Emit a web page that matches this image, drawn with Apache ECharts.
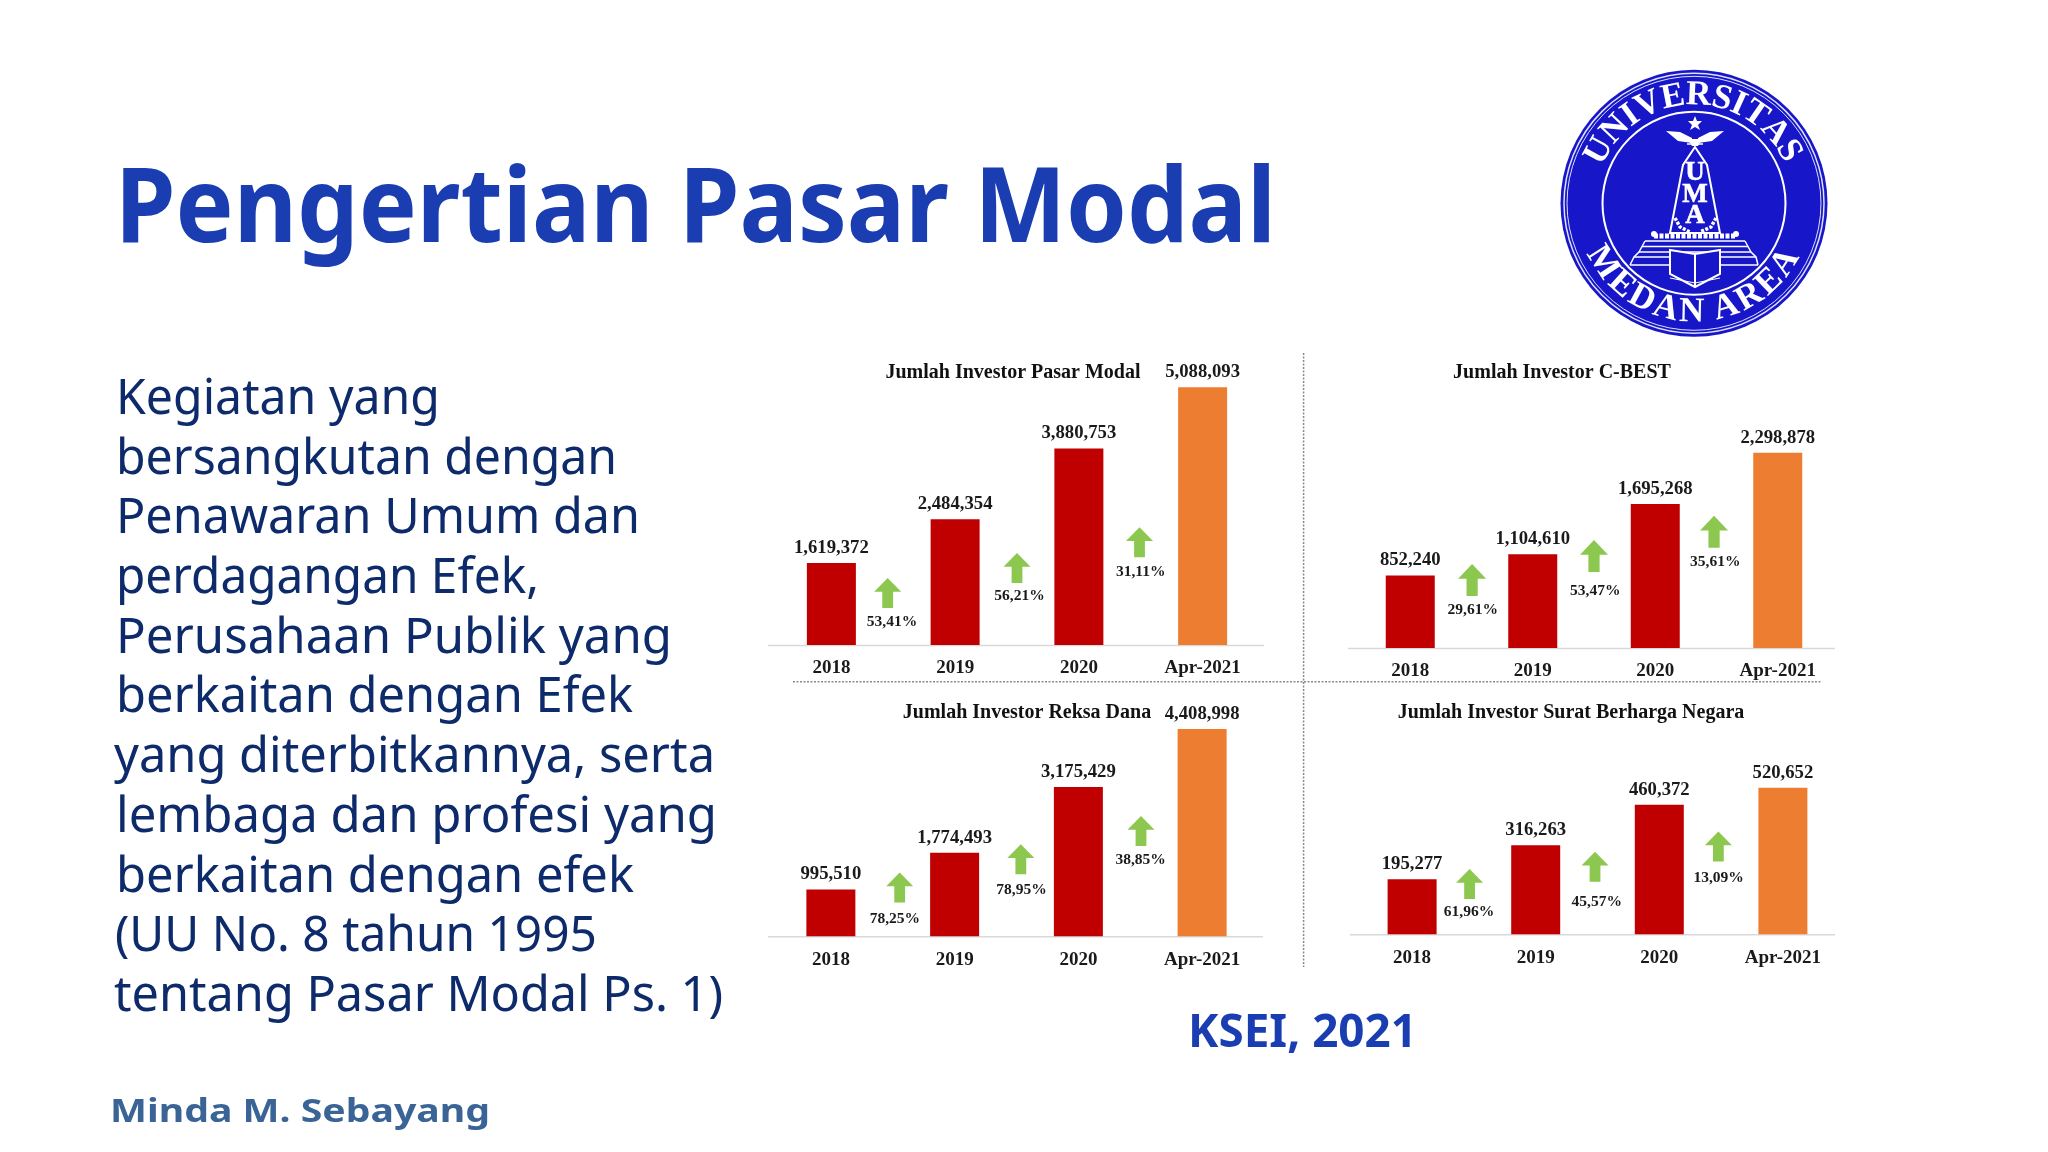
<!DOCTYPE html>
<html>
<head>
<meta charset="utf-8">
<title>Pengertian Pasar Modal</title>
<style>
  html, body { margin: 0; padding: 0; background: #fff; }
  #chart { width: 2048px; height: 1152px; }
</style>
<script src="https://cdn.jsdelivr.net/npm/echarts@6/dist/echarts.min.js"></script>
</head>
<body>
<div id="chart"></div>
<script>
// data
const categories = ['2018', '2019', '2020', 'Apr-2021'];

const pasarModal = [1619372, 2484354, 3880753, 5088093];
const cBest = [852240, 1104610, 1695268, 2298878];
const reksaDana = [995510, 1774493, 3175429, 4408998];
const suratNegara = [195277, 316263, 460372, 520652];

const growthPasarModal = ['53,41%', '56,21%', '31,11%'];
const growthCBest = ['29,61%', '53,47%', '35,61%'];
const growthReksaDana = ['78,25%', '78,95%', '38,85%'];
const growthSuratNegara = ['61,96%', '45,57%', '13,09%'];

// arrows and their percent labels, x in category bands (0-4), y in investors
const arrowsPasarModal = [[0.955, 1027000], [2.0, 1520000], [2.99, 2030000]];
const arrowsCBest = [[1.005, 800000], [2.0, 1083000], [2.98, 1369000]];
const arrowsReksaDana = [[1.056, 1038000], [2.035, 1638000], [3.006, 2240000]];
const arrowsSuratNegara = [[0.965, 178600], [1.98, 239700], [2.978, 311800]];

const pctPasarModal = [[0.99, 460000], [2.02, 967000], [3.0, 1447000]];
const pctCBest = [[1.01, 447000], [2.01, 675000], [2.99, 1012000]];
const pctReksaDana = [[1.017, 362000], [2.04, 985000], [3.003, 1623000]];
const pctSuratNegara = [[0.96, 80300], [1.994, 115800], [2.98, 198900]];

const panelTitles = [
  'Jumlah Investor Pasar Modal',
  'Jumlah Investor C-BEST',
  'Jumlah Investor Reksa Dana',
  'Jumlah Investor Surat Berharga Negara'
];

const bodyLines = [
  'Kegiatan yang',
  'bersangkutan dengan',
  'Penawaran Umum dan',
  'perdagangan Efek,',
  'Perusahaan Publik yang',
  'berkaitan dengan Efek',
  'yang diterbitkannya, serta',
  'lembaga dan profesi yang',
  'berkaitan dengan efek',
  '(UU No. 8 tahun 1995',
  'tentang Pasar Modal Ps. 1)'
];

// layout
const bodyWidths = [324, 501, 524, 423, 556, 517, 601, 601, 518, 482, 609];
const bodyLefts = [116, 116, 116, 116, 116, 116, 114, 116, 116, 115, 114];

const panels = [
  { values: pasarModal, growth: growthPasarModal, arrows: arrowsPasarModal, pct: pctPasarModal,
    left: 769.5, width: 495, top: 387.3, bottom: 645, titleX: 1008, titleY: 358, axisFrom: 768, axisTo: 1264 },
  { values: cBest, growth: growthCBest, arrows: arrowsCBest, pct: pctCBest,
    left: 1349, width: 490, top: 452.7, bottom: 648, titleX: 1557, titleY: 358, axisFrom: 1348, axisTo: 1835 },
  { values: reksaDana, growth: growthReksaDana, arrows: arrowsReksaDana, pct: pctReksaDana,
    left: 769, width: 495, top: 729, bottom: 936.3, titleX: 1022, titleY: 698, axisFrom: 768, axisTo: 1263 },
  { values: suratNegara, growth: growthSuratNegara, arrows: arrowsSuratNegara, pct: pctSuratNegara,
    left: 1350.3, width: 494.4, top: 787.7, bottom: 934.3, titleX: 1566, titleY: 698, axisFrom: 1350, axisTo: 1835 }
];

const SERIF = '"Liberation Serif", serif';
const SANS = '"Noto Sans", sans-serif';
const BLUE = '#1a3eb2';
const NAVY = '#0d2a6b';
const LOGO = '#1717c9';
const ARROW = 'path://M50 0 L100 46 L70 46 L70 100 L30 100 L30 46 L0 46 Z';

const measureCtx = document.createElement('canvas').getContext('2d');

// text squeezed to the width it has in the picture
function fitText(text, x, y, font, fill, targetWidth) {
  measureCtx.font = font;
  const natural = measureCtx.measureText(text).width;
  return {
    type: 'text', x: x, y: y, scaleX: targetWidth / natural, silent: true,
    style: { text: text, font: font, fill: fill, textVerticalAlign: 'middle' }
  };
}

function dotted(x1, y1, x2, y2) {
  return {
    type: 'line', silent: true,
    shape: { x1: x1, y1: y1, x2: x2, y2: y2 },
    style: { stroke: '#8a8a8a', lineWidth: 1.5, lineDash: [2, 1.5] }
  };
}

// round text on the logo, letters spaced by their own width
function arcLetters(text, cx, cy, radius, fromDeg, toDeg, bottom) {
  const font = 'bold 35px ' + SERIF;
  measureCtx.font = font;
  const chars = text.split('');
  const widths = chars.map(ch => measureCtx.measureText(ch).width);
  const span = widths.reduce((a, b) => a + b, 0) - widths[0] / 2 - widths[widths.length - 1] / 2;
  const out = [];
  let run = 0;
  chars.forEach((ch, i) => {
    if (i > 0) run += (widths[i - 1] + widths[i]) / 2;
    if (ch === ' ') return;
    const deg = fromDeg + (toDeg - fromDeg) * run / span;
    const rad = deg * Math.PI / 180;
    out.push({
      type: 'text', silent: true,
      x: cx + radius * Math.sin(rad),
      y: bottom ? cy + radius * Math.cos(rad) : cy - radius * Math.cos(rad),
      rotation: (bottom ? deg : -deg) * Math.PI / 180,
      style: { text: ch, font: font, fill: '#fff', textAlign: 'center', textVerticalAlign: 'middle' }
    });
  });
  return out;
}

function logo() {
  const cx = 1694, cy = 203.3;
  const white = { stroke: '#fff', fill: 'none', lineWidth: 2 };
  const line = (pts, w) => ({
    type: 'polyline', silent: true, shape: { points: pts },
    style: { stroke: '#fff', fill: 'none', lineWidth: w || 2 }
  });
  const solid = pts => ({ type: 'polygon', silent: true, shape: { points: pts }, style: { fill: '#fff' } });
  const els = [
    { type: 'circle', silent: true, shape: { cx: cx, cy: cy, r: 133.5 }, style: { fill: LOGO } },
    { type: 'circle', silent: true, shape: { cx: cx, cy: cy, r: 130 }, style: { stroke: '#dfe0fa', fill: 'none', lineWidth: 1.5 } },
    { type: 'circle', silent: true, shape: { cx: cx, cy: cy, r: 127 }, style: { stroke: '#dfe0fa', fill: 'none', lineWidth: 1 } },
    { type: 'circle', silent: true, shape: { cx: cx, cy: cy, r: 91.5 }, style: white },
    // monument
    { type: 'polygon', silent: true, shape: { points: [[1695, 147], [1707, 165], [1720, 233], [1670, 233], [1683, 165]] }, style: white },
    // star
    solid([[1695, 116], [1697, 121], [1702, 121], [1698, 125], [1700, 130], [1695, 127], [1690, 130], [1692, 125], [1688, 121], [1693, 121]]),
    // wings
    solid([[1666, 131], [1680, 132], [1692, 138], [1692, 143], [1678, 141]]),
    solid([[1724, 131], [1710, 132], [1698, 138], [1698, 143], [1712, 141]]),
    solid([[1688, 139], [1702, 139], [1698, 146], [1692, 146]]),
    line([[1687, 144], [1703, 144]], 1.5),
    // chain and its posts
    { type: 'line', silent: true, shape: { x1: 1654, y1: 236, x2: 1736, y2: 236 }, style: { stroke: '#fff', lineWidth: 5, lineDash: [4, 1.5] } },
    { type: 'circle', silent: true, shape: { cx: 1654, cy: 234, r: 3 }, style: { fill: '#fff' } },
    { type: 'circle', silent: true, shape: { cx: 1736, cy: 234, r: 3 }, style: { fill: '#fff' } },
    // laurel
    { type: 'polyline', silent: true, shape: { points: [[1675, 218], [1680, 227], [1690, 232]] }, style: { stroke: '#fff', fill: 'none', lineWidth: 3.5, lineDash: [3, 1.5] } },
    { type: 'polyline', silent: true, shape: { points: [[1716, 218], [1711, 227], [1700, 232]] }, style: { stroke: '#fff', fill: 'none', lineWidth: 3.5, lineDash: [3, 1.5] } },
    // steps
    line([[1645, 241], [1745, 241]], 1.5),
    line([[1642, 246.5], [1748, 246.5]], 1.5),
    line([[1639, 252], [1751, 252]], 1.5),
    line([[1634, 257], [1756, 257]], 1.5),
    line([[1630, 265], [1758, 265]], 1.5),
    line([[1630, 265], [1634, 257], [1639, 252], [1642, 246.5], [1645, 241]], 1.5),
    line([[1758, 265], [1756, 257], [1751, 252], [1748, 246.5], [1745, 241]], 1.5),
    // book
    { type: 'polygon', silent: true, shape: { points: [[1670, 250], [1695, 254], [1720, 250], [1720, 274], [1695, 287], [1670, 274]] }, style: { fill: LOGO, stroke: '#fff', lineWidth: 2 } },
    line([[1695, 254], [1695, 287]], 2),
    line([[1670, 278], [1695, 283], [1720, 278]], 1)
  ];
  ['U', 'M', 'A'].forEach((ch, i) => {
    els.push({
      type: 'text', x: 1695, y: [173, 195, 216][i], silent: true,
      style: { text: ch, font: 'bold 27px ' + SERIF, fill: '#fff', stroke: '#fff', lineWidth: 0.6, textAlign: 'center', textVerticalAlign: 'middle' }
    });
  });
  return els
    .concat(arcLetters('UNIVERSITAS', cx, cy, 108, -61, 61, false))
    .concat(arcLetters('MEDAN AREA', cx, cy, 109, -57, 57, true));
}

const grid = [], xAxis = [], yAxis = [], series = [], title = [];
const baselines = [];

panels.forEach((p, i) => {
  const catAxis = i * 2, bandAxis = i * 2 + 1;

  grid.push({ left: p.left, width: p.width, top: p.top, height: p.bottom - p.top });

  xAxis.push({
    type: 'category', gridIndex: i, data: categories,
    axisLine: { show: false },
    axisTick: { show: false },
    axisLabel: { margin: 14, color: '#1a1a1a', fontFamily: SERIF, fontWeight: 'bold', fontSize: 19, interval: 0 }
  });
  // band axis only places the arrows between the bars
  xAxis.push({ type: 'value', gridIndex: i, min: 0, max: 4, show: false, splitLine: { show: false } });

  yAxis.push({ type: 'value', gridIndex: i, min: 0, max: Math.max(...p.values), show: false, splitLine: { show: false } });

  title.push({
    text: panelTitles[i], left: p.titleX, top: p.titleY, textAlign: 'center',
    textStyle: { color: '#111', fontFamily: SERIF, fontWeight: 'bold', fontSize: 20 }
  });

  // the baseline stops short of the last band in the picture
  baselines.push({
    type: 'line', silent: true,
    shape: { x1: p.axisFrom, y1: p.bottom + 0.5, x2: p.axisTo, y2: p.bottom + 0.5 },
    style: { stroke: '#d9d9d9', lineWidth: 1.5 }
  });

  series.push({
    type: 'bar', xAxisIndex: catAxis, yAxisIndex: i, barWidth: 49,
    data: p.values.map((v, j) => ({
      value: v,
      itemStyle: { color: j === p.values.length - 1 ? '#ed7d31' : '#c00000' }
    })),
    label: {
      show: true, position: 'top', distance: 5.5, color: '#1a1a1a',
      fontFamily: SERIF, fontWeight: 'bold', fontSize: 18.7,
      formatter: params => params.value.toLocaleString('en-US')
    }
  });

  series.push({
    type: 'scatter', xAxisIndex: bandAxis, yAxisIndex: i,
    symbol: ARROW, symbolSize: i === 1 ? [28, 32] : [27, 30],
    itemStyle: { color: '#8cc84f', opacity: 1 },
    data: p.arrows
  });

  series.push({
    type: 'scatter', xAxisIndex: bandAxis, yAxisIndex: i,
    symbolSize: 1, itemStyle: { color: 'transparent', opacity: 1 },
    label: {
      show: true, position: 'inside', color: '#1a1a1a', opacity: 1,
      fontFamily: SERIF, fontWeight: 'bold', fontSize: 15.5,
      formatter: params => p.growth[params.dataIndex]
    },
    data: p.pct
  });
});

const graphic = [
  fitText('Pengertian Pasar Modal', 115, 212, 'bold 104px ' + SANS, BLUE, 1161),
  fitText('KSEI, 2021', 1188, 1034, 'bold 47px ' + SANS, BLUE, 229),
  fitText('Minda M. Sebayang', 110, 1113, 'bold 32px ' + SANS, '#3a6396', 380),
  dotted(1303.6, 353, 1303.6, 967),
  dotted(793, 681.7, 1822, 681.7)
];

bodyLines.forEach((text, i) => {
  graphic.push(fitText(text, bodyLefts[i], 400 + i * 59.7, '400 49px ' + SANS, NAVY, bodyWidths[i]));
});

const chart = echarts.init(document.getElementById('chart'));
chart.setOption({
  animation: false,
  backgroundColor: '#fff',
  title: title,
  grid: grid,
  xAxis: xAxis,
  yAxis: yAxis,
  series: series,
  graphic: graphic.concat(baselines, logo())
});
</script>
</body>
</html>
